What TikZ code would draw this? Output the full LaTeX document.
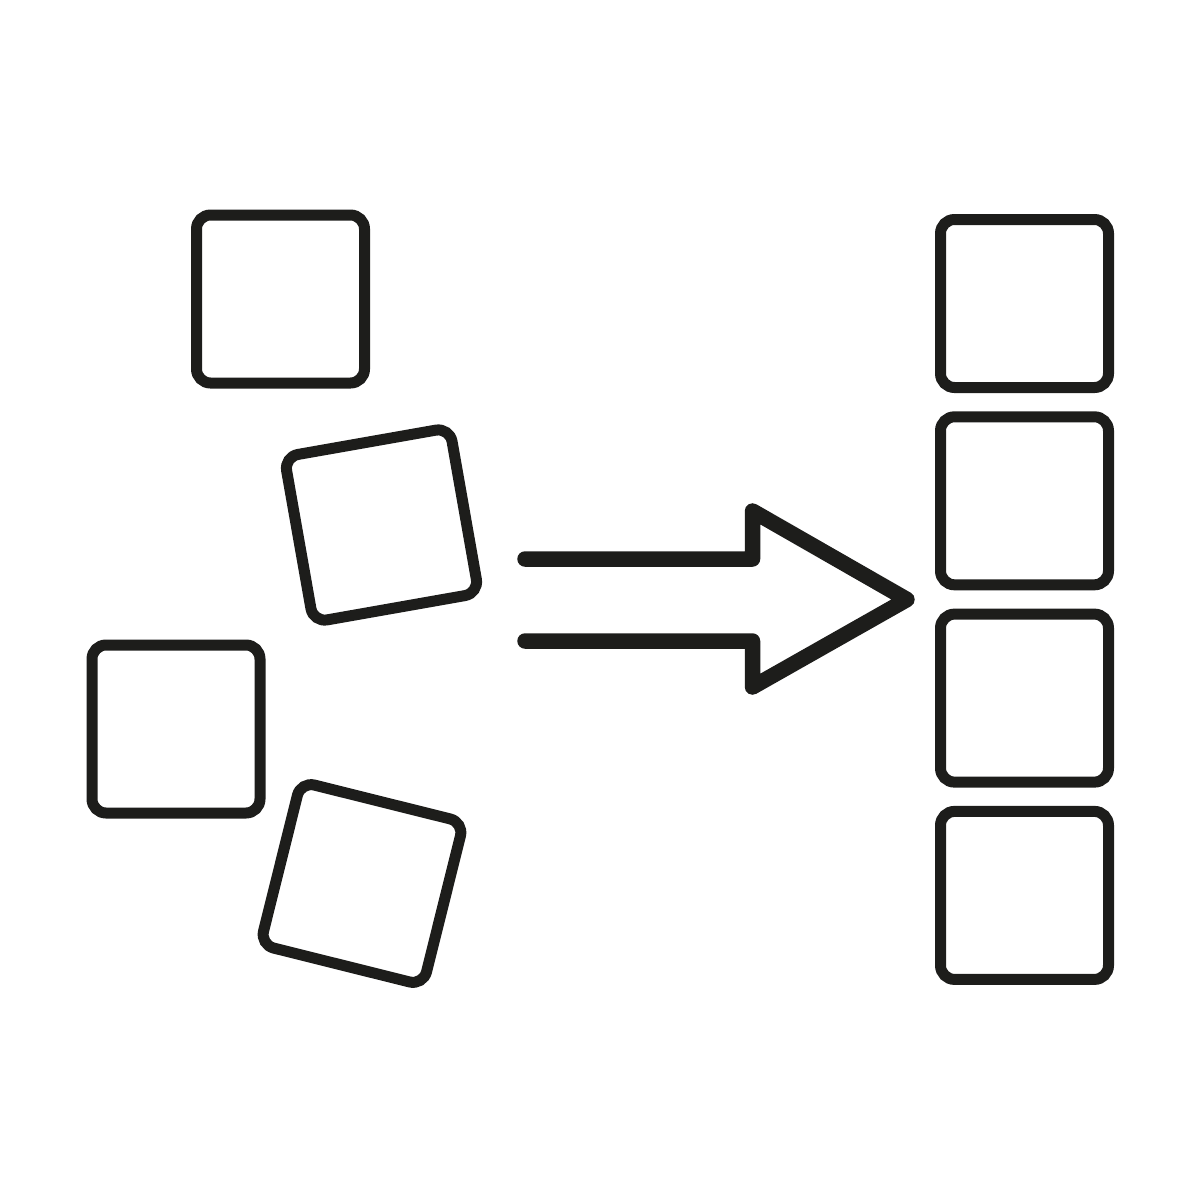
\documentclass[tikz,border=0pt]{standalone}
\usetikzlibrary{positioning}
\definecolor{ink}{HTML}{1D1D1B}

\begin{document}
\begin{tikzpicture}[
  tile/.style={draw=ink, line width=0.11cm, rounded corners=0.14cm,
    minimum size=1.68cm, inner sep=0pt, outer sep=0pt},
  bigarrow/.style={draw=ink, line width=0.155cm, line cap=round, line join=round}]
\useasboundingbox (0,0) rectangle (12,-12);
% loose tiles
\node[tile] (loose a) at (2.805,-2.99) {};
\node[tile, rotate=10] (loose b) at (3.815,-5.25) {};
\node[tile] (loose c) at (1.76,-7.29) {};
\node[tile, rotate=-14] (loose d) at (3.62,-8.835) {};
% stacked tiles
\node[tile] (stack 1) at (10.245,-3.035) {};
\foreach \i [remember=\i as \j (initially 1)] in {2,3,4}
  \node[tile, below=0.293cm of stack \j] (stack \i) {};
% arrow
\draw[bigarrow] (5.25,-5.59) -- (7.525,-5.59) -- (7.525,-5.11) -- (9.07,-5.995)
  -- (7.525,-6.87) -- (7.525,-6.41) -- (5.25,-6.41);
\end{tikzpicture}
\end{document}
